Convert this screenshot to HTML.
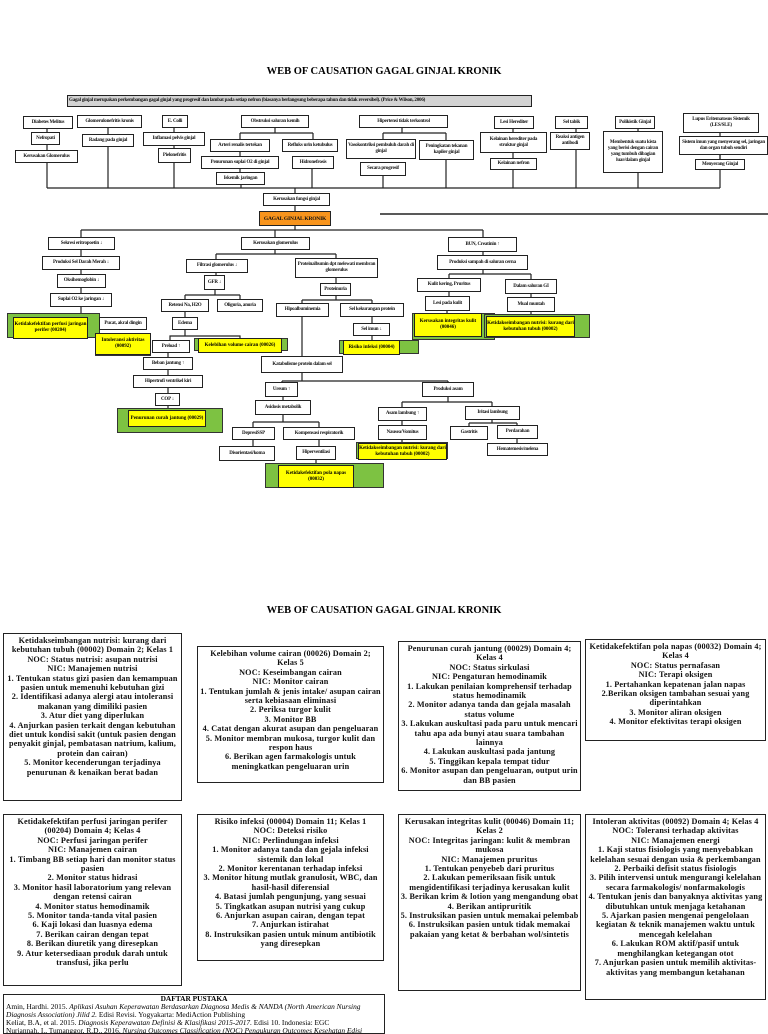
<!DOCTYPE html>
<html><head><meta charset="utf-8"><style>
*{margin:0;padding:0;box-sizing:border-box}
body{width:768px;height:1024px;background:#fff;position:relative;overflow:hidden;font-family:"Liberation Serif",serif}
.b{position:absolute;border:1.3px solid #222;background:#fff;font-size:5px;line-height:6px;text-align:center;display:flex;align-items:center;justify-content:center;font-weight:bold;color:#111;letter-spacing:-0.2px;padding:0 1px}
.g{position:absolute;background:#7dc242;border:1px solid #333}
.y{position:absolute;background:#ffff00;border:1.3px solid #222;font-size:5px;line-height:6px;text-align:center;display:flex;align-items:center;justify-content:center;font-weight:bold}
.t{position:absolute;width:768px;text-align:center;font-weight:bold;font-size:10.5px}
.c{position:absolute;border:1.3px solid #222;font-size:8.2px;line-height:9.4px;letter-spacing:0.15px;font-weight:bold;text-align:center;padding:2px 1px;color:#111;overflow:hidden}
svg{position:absolute;left:0;top:0}
</style></head><body>
<div class="t" style="top:66px">WEB OF CAUSATION GAGAL GINJAL KRONIK</div>
<svg width="768" height="500"><g stroke="#222" stroke-width="1.2" fill="none">
<path d="M47 188H720M47 129V188M108 128V188M174 128V188M241 185V188M312 169V188M383 176V188M446 160V188M513 170V188M576 150V188M638 173V188M720 133V188"/>
<path d="M275 128V133M240 133H313M240 133V139M313 133V139M240 152V172M402 128V133M383 133H446M383 133V139M446 133V140M513 129V170M576 129V132M638 129V131M720 155V159"/>
<path d="M295 188V211M295 226V230M81 230H483M81 230V237M275 230V237M483 230V237"/>
<path d="M380 214H768" stroke-width="1.6"/>
<path d="M81 250V313M275 250V254M216 254H336M216 254V275M336 254V283M215 290V295M185 295H240M185 295V317M240 295V299M185 330V336H170V340M185 336H240V338M168 353V410M336 296V300M302 300H372M302 300V356M372 300V340"/>
<path d="M302 373V381M282 381H448M282 381V382M448 381V402M283 397V422M253 422H319M253 422V446M319 422V446M316 460V465M402 402H492M402 402V443M492 402V423M469 423H517M469 423V426M517 423V443M483 252V274M449 274H531M449 274V296M531 274V297M447 311V313M531 312V316"/>
</g></svg>
<div class="b" style="left:67px;top:95px;width:465px;height:12px;background:#d3d3d3;justify-content:flex-start">Gagal ginjal merupakan perkembangan gagal ginjal yang progresif dan lambat pada setiap nefron (biasanya berlangsung beberapa tahun dan tidak reversibel). (Price &amp; Wilson, 2006)</div>
<div class="b" style="left:23px;top:116px;width:50px;height:13px">Diabetes Melitus</div>
<div class="b" style="left:31px;top:132px;width:29px;height:13px">Nefropati</div>
<div class="b" style="left:15px;top:150px;width:63px;height:13px">Kerusakan Glomerulus</div>
<div class="b" style="left:77px;top:115px;width:65px;height:13px">Glomerulonefritis kronis</div>
<div class="b" style="left:82px;top:134px;width:52px;height:13px">Radang pada ginjal</div>
<div class="b" style="left:162px;top:115px;width:26px;height:13px">E. Colli</div>
<div class="b" style="left:143px;top:132px;width:62px;height:14px">Inflamasi pelvis ginjal</div>
<div class="b" style="left:158px;top:148px;width:33px;height:15px">Pielonefritis</div>
<div class="b" style="left:241px;top:115px;width:68px;height:13px">Obstruksi saluran kemih</div>
<div class="b" style="left:210px;top:139px;width:60px;height:13px">Arteri renalis tertekan</div>
<div class="b" style="left:282px;top:139px;width:56px;height:13px">Refluks urin ketubulus</div>
<div class="b" style="left:201px;top:156px;width:78px;height:13px">Penurunan suplai O2 di ginjal</div>
<div class="b" style="left:292px;top:156px;width:42px;height:13px">Hidronefrosis</div>
<div class="b" style="left:216px;top:172px;width:49px;height:13px">Iskemik jaringan</div>
<div class="b" style="left:359px;top:115px;width:89px;height:13px">Hipertensi tidak terkontrol</div>
<div class="b" style="left:346px;top:139px;width:70px;height:20px">Vasokontriksi pembuluh darah di ginjal</div>
<div class="b" style="left:360px;top:162px;width:46px;height:14px">Secara progresif</div>
<div class="b" style="left:419px;top:140px;width:55px;height:20px">Peningkatan tekanan kapiler ginjal</div>
<div class="b" style="left:494px;top:116px;width:40px;height:13px">Lesi Herediter</div>
<div class="b" style="left:480px;top:132px;width:67px;height:21px">Kelainan herediter pada struktur ginjal</div>
<div class="b" style="left:490px;top:158px;width:47px;height:12px">Kelainan nefron</div>
<div class="b" style="left:555px;top:116px;width:33px;height:13px">Sel tabik</div>
<div class="b" style="left:550px;top:132px;width:40px;height:18px">Reaksi antigen antibodi</div>
<div class="b" style="left:615px;top:116px;width:40px;height:13px">Polikistik Ginjal</div>
<div class="b" style="left:603px;top:131px;width:60px;height:42px">Membentuk suatu kista yang berisi dengan cairan yang tumbuh dibagian luar/dalam ginjal</div>
<div class="b" style="left:683px;top:113px;width:76px;height:20px">Lupus Eritematosus Sistemik (LES/SLE)</div>
<div class="b" style="left:679px;top:136px;width:89px;height:19px">Sistem imun yang menyerang sel, jaringan dan organ tubuh sendiri</div>
<div class="b" style="left:695px;top:159px;width:50px;height:11px">Menyerang Ginjal</div>
<div class="b" style="left:263px;top:193px;width:67px;height:13px">Kerusakan fungsi ginjal</div>
<div class="b" style="left:259px;top:211px;width:72px;height:15px;background:#f7941d;font-size:5.5px">GAGAL GINJAL KRONIK</div>
<div class="b" style="left:48px;top:237px;width:67px;height:13px">Sekresi eritropoetin ↓</div>
<div class="b" style="left:42px;top:256px;width:78px;height:14px">Produksi Sel Darah Merah ↓</div>
<div class="b" style="left:57px;top:274px;width:49px;height:14px">Oksihemoglobin ↓</div>
<div class="b" style="left:50px;top:293px;width:62px;height:14px">Suplai O2 ke jaringan ↓</div>
<div class="g" style="left:7px;top:313px;width:93px;height:25px"></div>
<div class="y" style="left:13px;top:317px;width:75px;height:22px">Ketidakefektifan perfusi jaringan perifer (00204)</div>
<div class="b" style="left:99px;top:317px;width:48px;height:13px">Pucat, akral dingin</div>
<div class="g" style="left:95px;top:333px;width:56px;height:23px"></div>
<div class="y" style="left:95px;top:333px;width:56px;height:22px">Intoleransi aktivitas (00092)</div>
<div class="b" style="left:241px;top:237px;width:69px;height:13px">Kerusakan glomerulus</div>
<div class="b" style="left:186px;top:259px;width:62px;height:14px">Filtrasi glomerulus ↓</div>
<div class="b" style="left:204px;top:275px;width:21px;height:15px">GFR ↓</div>
<div class="b" style="left:161px;top:299px;width:48px;height:13px">Retensi Na, H2O</div>
<div class="b" style="left:217px;top:299px;width:46px;height:13px">Oliguria, anuria</div>
<div class="b" style="left:172px;top:317px;width:26px;height:13px">Edema</div>
<div class="b" style="left:152px;top:340px;width:38px;height:13px">Preload ↑</div>
<div class="g" style="left:194px;top:338px;width:94px;height:13px"></div>
<div class="y" style="left:198px;top:338px;width:84px;height:15px">Kelebihan volume cairan (00026)</div>
<div class="b" style="left:143px;top:357px;width:50px;height:13px">Beban jantung ↑</div>
<div class="b" style="left:133px;top:375px;width:70px;height:13px">Hipertrofi ventrikel kiri</div>
<div class="b" style="left:155px;top:393px;width:25px;height:13px">COP ↓</div>
<div class="g" style="left:117px;top:408px;width:106px;height:25px"></div>
<div class="y" style="left:128px;top:410px;width:78px;height:17px">Penurunan curah jantung (00029)</div>
<div class="b" style="left:295px;top:258px;width:83px;height:20px">Proteinalbumin dpt melewati membran glomerulus</div>
<div class="b" style="left:320px;top:283px;width:31px;height:13px">Proteinuria</div>
<div class="b" style="left:276px;top:303px;width:53px;height:14px">Hipoalbuminemia</div>
<div class="b" style="left:340px;top:303px;width:64px;height:14px">Sel kekurangan protein</div>
<div class="b" style="left:353px;top:323px;width:37px;height:13px">Sel imun ↓</div>
<div class="g" style="left:339px;top:340px;width:80px;height:14px"></div>
<div class="y" style="left:343px;top:340px;width:57px;height:15px">Risiko infeksi (00004)</div>
<div class="b" style="left:261px;top:356px;width:82px;height:17px">Katabolisme protein dalam sel</div>
<div class="b" style="left:265px;top:382px;width:33px;height:15px">Ureum ↑</div>
<div class="b" style="left:255px;top:400px;width:56px;height:15px">Asidosis metabolik</div>
<div class="b" style="left:232px;top:427px;width:43px;height:13px">DepresiSSP</div>
<div class="b" style="left:283px;top:427px;width:72px;height:13px">Kompensasi respiratorik</div>
<div class="b" style="left:219px;top:446px;width:56px;height:15px">Disorientasi/koma</div>
<div class="b" style="left:296px;top:446px;width:40px;height:14px">Hiperventilasi</div>
<div class="g" style="left:265px;top:463px;width:119px;height:25px"></div>
<div class="y" style="left:278px;top:465px;width:76px;height:23px">Ketidakefektifan pola napas (00032)</div>
<div class="b" style="left:448px;top:237px;width:69px;height:15px">BUN, Creatinin ↑</div>
<div class="b" style="left:437px;top:255px;width:91px;height:15px">Produksi sampah di saluran cerna</div>
<div class="b" style="left:417px;top:278px;width:64px;height:14px">Kulit kering, Pruritus</div>
<div class="b" style="left:425px;top:296px;width:45px;height:15px">Lesi pada kulit</div>
<div class="g" style="left:412px;top:313px;width:83px;height:27px"></div>
<div class="y" style="left:414px;top:313px;width:68px;height:24px">Kerusakan integritas kulit (00046)</div>
<div class="b" style="left:505px;top:279px;width:52px;height:15px">Dalam saluran GI</div>
<div class="b" style="left:507px;top:297px;width:48px;height:15px">Mual muntah</div>
<div class="g" style="left:484px;top:314px;width:106px;height:24px"></div>
<div class="y" style="left:486px;top:316px;width:89px;height:21px">Ketidakseimbangan nutrisi: kurang dari kebutuhan tubuh (00002)</div>
<div class="b" style="left:422px;top:382px;width:52px;height:15px">Produksi asam</div>
<div class="b" style="left:378px;top:407px;width:49px;height:14px">Asam lambung ↑</div>
<div class="b" style="left:465px;top:406px;width:55px;height:14px">Iritasi lambung</div>
<div class="b" style="left:378px;top:425px;width:49px;height:15px">Nausea/Vomitus</div>
<div class="b" style="left:450px;top:426px;width:38px;height:14px">Gastritis</div>
<div class="b" style="left:497px;top:425px;width:41px;height:14px">Perdarahan</div>
<div class="b" style="left:487px;top:443px;width:61px;height:13px">Hematemesis/melena</div>
<div class="g" style="left:356px;top:442px;width:92px;height:17px"></div>
<div class="y" style="left:358px;top:443px;width:89px;height:17px">Ketidakseimbangan nutrisi: kurang dari kebutuhan tubuh (00002)</div>

<div class="t" style="top:605px">WEB OF CAUSATION GAGAL GINJAL KRONIK</div>

<div class="c" style="left:3px;top:633px;width:179px;height:168px">Ketidakseimbangan nutrisi: kurang dari kebutuhan tubuh (00002) Domain 2; Kelas 1<br>NOC: Status nutrisi: asupan nutrisi<br>NIC: Manajemen nutrisi<br>1. Tentukan status gizi pasien dan kemampuan pasien untuk memenuhi kebutuhan gizi<br>2. Identifikasi adanya alergi atau intoleransi makanan yang dimiliki pasien<br>3. Atur diet yang diperlukan<br>4. Anjurkan pasien terkait dengan kebutuhan diet untuk kondisi sakit (untuk pasien dengan penyakit ginjal, pembatasan natrium, kalium, protein dan cairan)<br>5. Monitor kecenderungan terjadinya penurunan &amp; kenaikan berat badan</div>
<div class="c" style="left:197px;top:646px;width:187px;height:137px">Kelebihan volume cairan (00026) Domain 2; Kelas 5<br>NOC: Keseimbangan cairan<br>NIC: Monitor cairan<br>1. Tentukan jumlah &amp; jenis intake/ asupan cairan serta kebiasaan eliminasi<br>2. Periksa turgor kulit<br>3. Monitor BB<br>4. Catat dengan akurat asupan dan pengeluaran<br>5. Monitor membran mukosa, turgor kulit dan respon haus<br>6. Berikan agen farmakologis untuk meningkatkan pengeluaran urin</div>
<div class="c" style="left:398px;top:641px;width:183px;height:150px">Penurunan curah jantung (00029) Domain 4; Kelas 4<br>NOC: Status sirkulasi<br>NIC: Pengaturan hemodinamik<br>1. Lakukan penilaian komprehensif terhadap status hemodinamik<br>2. Monitor adanya tanda dan gejala masalah status volume<br>3. Lakukan auskultasi pada paru untuk mencari tahu apa ada bunyi atau suara tambahan lainnya<br>4. Lakukan auskultasi pada jantung<br>5. Tinggikan kepala tempat tidur<br>6. Monitor asupan dan pengeluaran, output urin dan BB pasien</div>
<div class="c" style="left:585px;top:639px;width:181px;height:102px">Ketidakefektifan pola napas (00032) Domain 4; Kelas 4<br>NOC: Status pernafasan<br>NIC: Terapi oksigen<br>1. Pertahankan kepatenan jalan napas<br>2.Berikan oksigen tambahan sesuai yang diperintahkan<br>3. Monitor aliran oksigen<br>4. Monitor efektivitas terapi oksigen</div>
<div class="c" style="left:3px;top:814px;width:179px;height:172px">Ketidakefektifan perfusi jaringan perifer (00204) Domain 4; Kelas 4<br>NOC: Perfusi jaringan perifer<br>NIC: Manajemen cairan<br>1. Timbang BB setiap hari dan monitor status pasien<br>2. Monitor status hidrasi<br>3. Monitor hasil laboratorium yang relevan dengan retensi cairan<br>4. Monitor status hemodinamik<br>5. Monitor tanda-tanda vital pasien<br>6. Kaji lokasi dan luasnya edema<br>7. Berikan cairan dengan tepat<br>8. Berikan diuretik yang diresepkan<br>9. Atur ketersediaan produk darah untuk transfusi, jika perlu</div>
<div class="c" style="left:197px;top:814px;width:187px;height:147px">Risiko infeksi (00004) Domain 11; Kelas 1<br>NOC: Deteksi risiko<br>NIC: Perlindungan infeksi<br>1. Monitor adanya tanda dan gejala infeksi sistemik dan lokal<br>2. Monitor kerentanan terhadap infeksi<br>3. Monitor hitung mutlak granulosit, WBC, dan hasil-hasil diferensial<br>4. Batasi jumlah pengunjung, yang sesuai<br>5. Tingkatkan asupan nutrisi yang cukup<br>6. Anjurkan asupan cairan, dengan tepat<br>7. Anjurkan istirahat<br>8. Instruksikan pasien untuk minum antibiotik yang diresepkan</div>
<div class="c" style="left:398px;top:814px;width:183px;height:177px">Kerusakan integritas kulit (00046) Domain 11; Kelas 2<br>NOC: Integritas jaringan: kulit &amp; membran mukosa<br>NIC: Manajemen pruritus<br>1. Tentukan penyebeb dari pruritus<br>2. Lakukan pemeriksaan fisik untuk mengidentifikasi terjadinya kerusakan kulit<br>3. Berikan krim &amp; lotion yang mengandung obat<br>4. Berikan antipruritik<br>5. Instruksikan pasien untuk memakai pelembab<br>6. Instruksikan pasien untuk tidak memakai pakaian yang ketat &amp; berbahan wol/sintetis</div>
<div class="c" style="left:585px;top:814px;width:181px;height:186px">Intoleran aktivitas (00092) Domain 4; Kelas 4<br>NOC: Toleransi terhadap aktivitas<br>NIC: Manajemen energi<br>1. Kaji status fisiologis yang menyebabkan kelelahan sesuai dengan usia &amp; perkembangan<br>2. Perbaiki defisit status fisiologis<br>3. Pilih intervensi untuk mengurangi kelelahan secara farmakologis/ nonfarmakologis<br>4. Tentukan jenis dan banyaknya aktivitas yang dibutuhkan untuk menjaga ketahanan<br>5. Ajarkan pasien mengenai pengelolaan kegiatan &amp; teknik manajemen waktu untuk mencegah kelelahan<br>6. Lakukan ROM aktif/pasif untuk menghilangkan ketegangan otot<br>7. Anjurkan pasien untuk memilih aktivitas-aktivitas yang membangun ketahanan</div>
<div style="position:absolute;left:3px;top:994px;width:382px;height:40px;border:1.3px solid #222;font-size:7.4px;line-height:8px;padding:0 2px;overflow:hidden">
<div style="text-align:center;font-weight:bold">DAFTAR PUSTAKA</div>
Amin, Hardhi. 2015. <i>Aplikasi Asuhan Keperawatan Berdasarkan Diagnosa Medis &amp; NANDA (North American Nursing Diagnosis Association) Jilid 2.</i> Edisi Revisi. Yogyakarta: MediAction Publishing<br>
Keliat, B.A, et al. 2015. <i>Diagnosis Keperawatan Definisi &amp; Klasifikasi 2015-2017.</i> Edisi 10. Indonesia: EGC<br>
Nurjannah. I., Tumanggor, R.D., 2016. <i>Nursing Outcomes Classification (NOC) Pengukuran Outcomes Kesehatan Edisi Bahasa</i></div>
</body></html>
